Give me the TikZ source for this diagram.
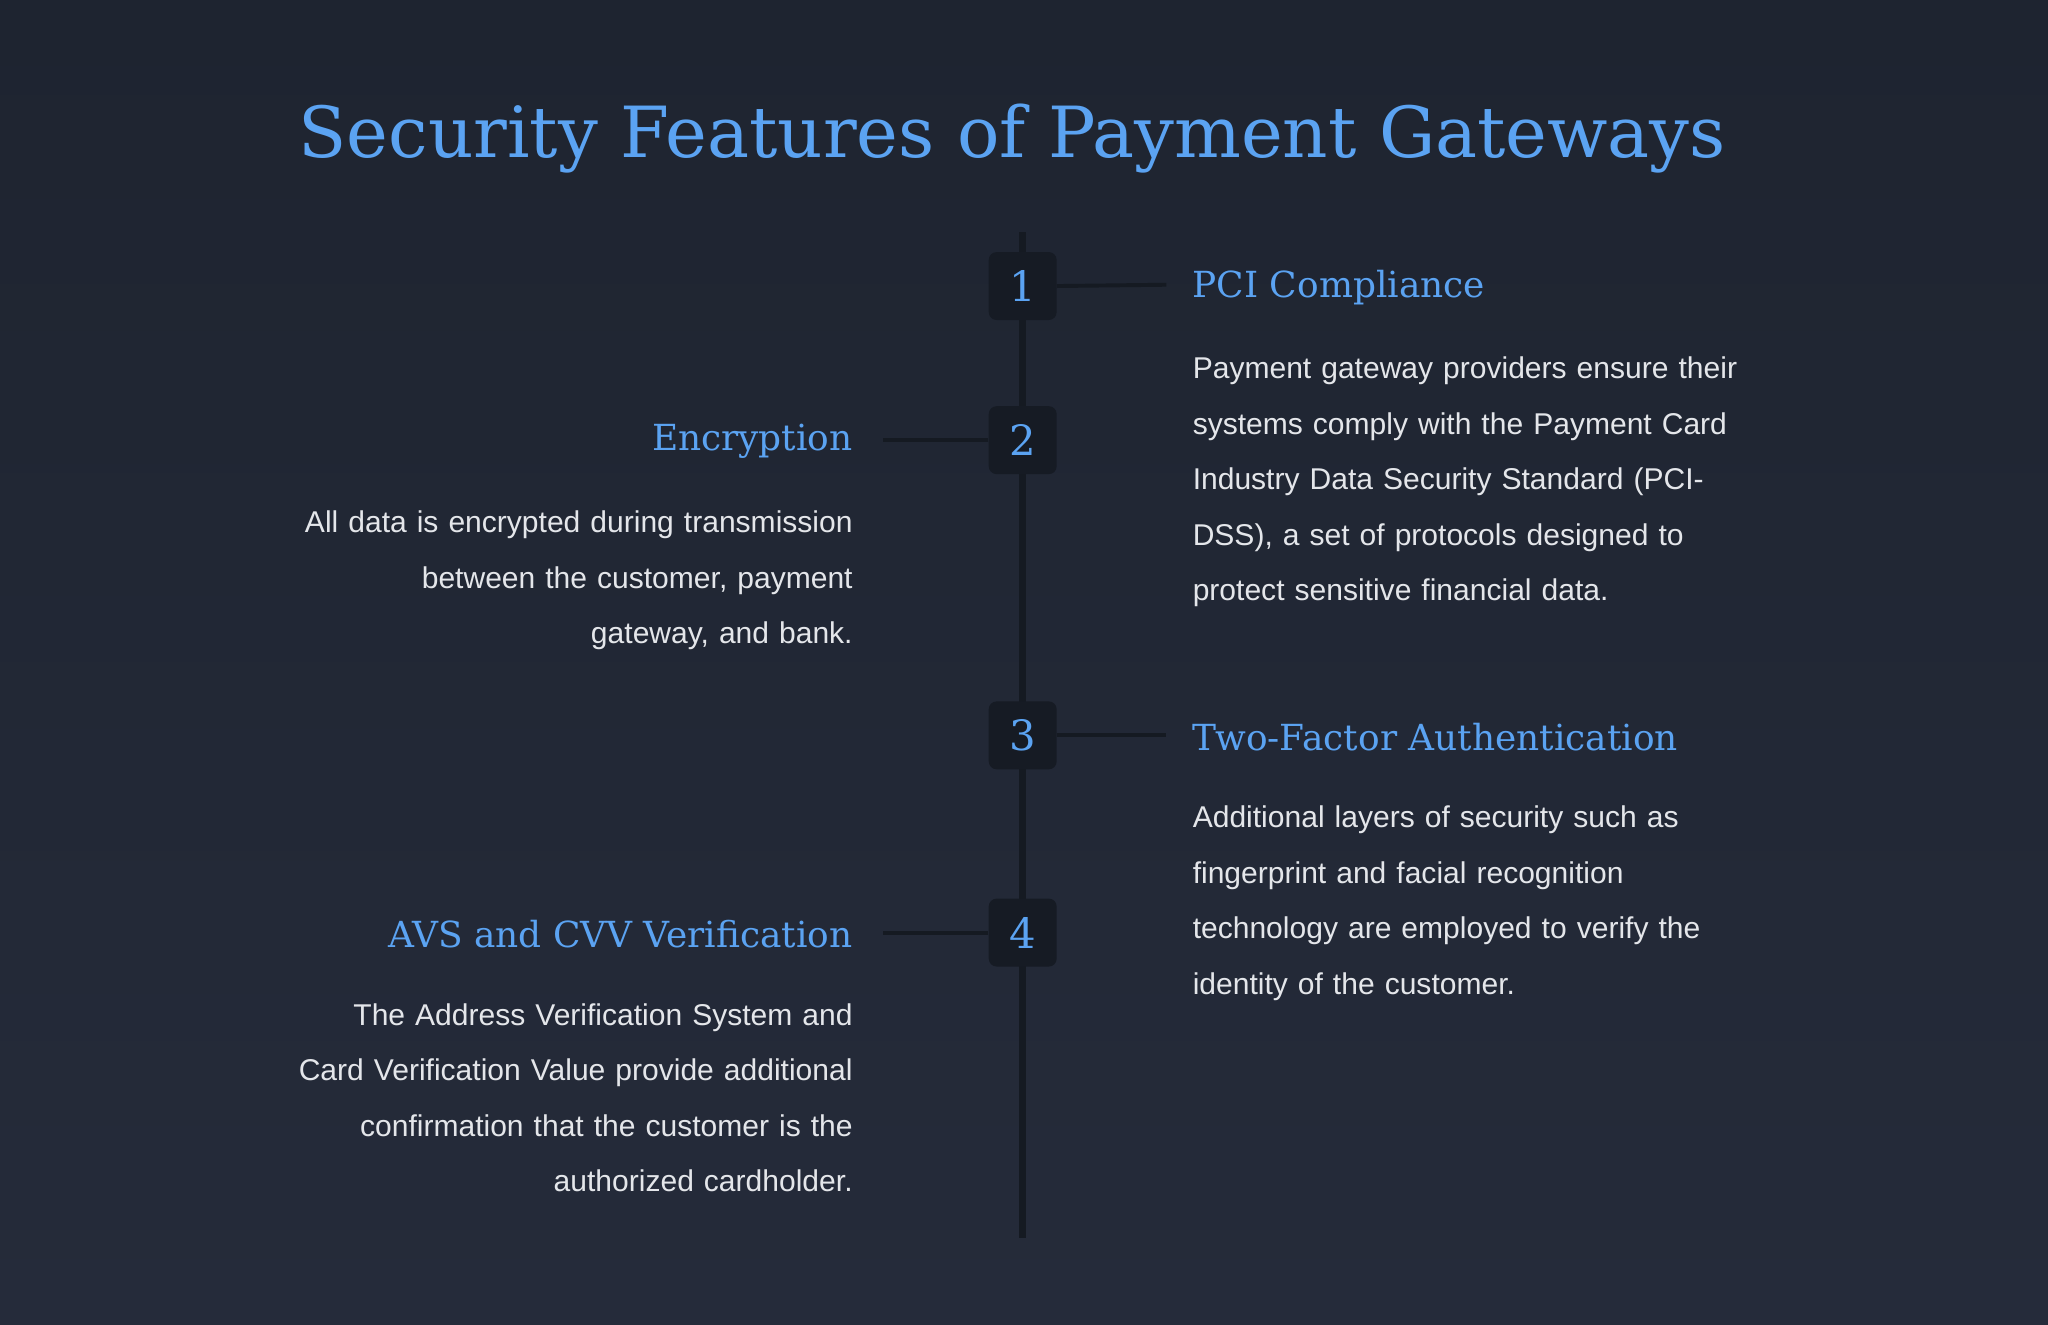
\documentclass[tikz,border=0pt]{standalone}
\usepackage{fontspec}
\setmainfont{Liberation Sans}
\newfontfamily\slab{DejaVu Serif}
\definecolor{bgA}{HTML}{1E2430}
\definecolor{bgB}{HTML}{252B3A}
\definecolor{accent}{HTML}{5BA3F2}
\definecolor{body}{HTML}{E4E6EA}
\definecolor{track}{HTML}{151A22}
\definecolor{boxc}{HTML}{161B24}
\tikzset{
 numbox/.style={fill=boxc,rounded corners=6pt,minimum width=52pt,minimum height=52pt,inner sep=0pt,text=accent,font=\slab\fontsize{32}{36}\selectfont},
 link/.style={draw=track,line width=3pt},
 headR/.style={anchor=west,text=accent,font=\slab\fontsize{27.5}{32}\selectfont,inner sep=0pt},
 headL/.style={anchor=east,text=accent,font=\slab\fontsize{27.5}{32}\selectfont,inner sep=0pt},
 bodyR/.style={anchor=north west,text=body,align=left,text width=440pt,font=\fontsize{23}{42.5}\selectfont,inner sep=0pt},
 bodyL/.style={anchor=north east,text=body,align=right,text width=440pt,font=\fontsize{23}{42.5}\selectfont,inner sep=0pt}
}
\begin{document}
\begin{tikzpicture}[x=1pt,y=-1pt]
\shade[top color=bgA,bottom color=bgB] (0,0) rectangle (1568,1014);
\useasboundingbox (0,0) rectangle (1568,1014);
\node[text=accent,font=\slab\fontsize{54}{60}\selectfont] (title) at (775,106) {Security Features of Payment Gateways};
\coordinate (top) at (783,178); \coordinate (bot) at (783,948);
\draw[draw=track,line width=5pt] (top) -- (bot);
\node[numbox] (n1) at (783,219) {1};
\node[numbox] (n2) at (783,337) {2};
\node[numbox] (n3) at (783,563) {3};
\node[numbox] (n4) at (783,714) {4};
\node[headR] (h1) at (913,220) {PCI Compliance};
\node[headL] (h2) at (653,338) {Encryption};
\node[headR] (h3) at (913,564) {Two-Factor Authentication};
\node[headL] (h4) at (653,715) {AVS and CVV Verification};
\coordinate (c1) at (893,218); \coordinate (c2) at (676,337);
\coordinate (c3) at (893,563); \coordinate (c4) at (676,714);
\draw[link] (n1.east) -- (c1); \draw[link] (n2.west) -- (c2);
\draw[link] (n3.east) -- (c3); \draw[link] (n4.west) -- (c4);
\node[bodyR] (b1) at (913,273) {Payment gateway providers ensure their\\ systems comply with the Payment Card\\ Industry Data Security Standard (PCI-\\ DSS), a set of protocols designed to\\ protect sensitive financial data.};
\node[bodyL] (b2) at (653,391) {All data is encrypted during transmission\\ between the customer, payment\\ gateway, and bank.};
\node[bodyR] (b3) at (913,617) {Additional layers of security such as\\ fingerprint and facial recognition\\ technology are employed to verify the\\ identity of the customer.};
\node[bodyL] (b4) at (653,768) {The Address Verification System and\\ Card Verification Value provide additional\\ confirmation that the customer is the\\ authorized cardholder.};
\end{tikzpicture}
\end{document}
